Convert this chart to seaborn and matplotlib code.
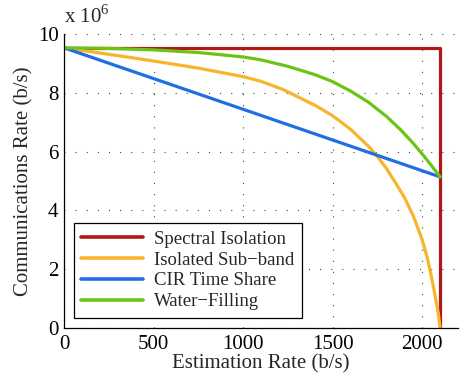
import pandas as pd
import matplotlib
matplotlib.use("Agg")
import matplotlib.pyplot as plt
import seaborn as sns

# === Data (rates in units of 1e6 b/s) ===
series_names = ["Spectral Isolation", "Isolated Sub\u2212band", "CIR Time Share", "Water\u2212Filling"]

spectral_x = [0, 2100, 2100]
spectral_y = [9.53, 9.53, 0.0]

subband_x = [0, 160, 350, 500, 750, 1000, 1100, 1220, 1400, 1500, 1600, 1700, 1750,
             1800, 1850, 1900, 1950, 2000, 2030, 2055, 2075, 2090, 2100]
subband_y = [9.53, 9.39, 9.22, 9.08, 8.84, 8.55, 8.39, 8.12, 7.58, 7.22, 6.76, 6.18, 5.83,
             5.43, 4.95, 4.45, 3.82, 3.00, 2.35, 1.65, 1.00, 0.50, 0.0]

cir_x = [0, 2100]
cir_y = [9.53, 5.14]

water_x = [0, 250, 500, 750, 1000, 1100, 1250, 1400, 1500, 1600, 1700, 1800, 1880,
           1950, 2000, 2050, 2100]
water_y = [9.53, 9.51, 9.46, 9.37, 9.22, 9.12, 8.90, 8.62, 8.38, 8.06, 7.68, 7.20, 6.74,
           6.28, 5.92, 5.54, 5.14]

colors = ["#B01818", "#F7B52C", "#1F6FE3", "#6CC414"]

x_ticks = [0, 500, 1000, 1500, 2000]
y_ticks = [0, 2, 4, 6, 8, 10]

# === Build long table ===
frames = []
for name, xs, ys in zip(series_names,
                        [spectral_x, subband_x, cir_x, water_x],
                        [spectral_y, subband_y, cir_y, water_y]):
    frames.append(pd.DataFrame({"x": xs, "y": ys, "series": name}))
df = pd.concat(frames, ignore_index=True)

# === Style ===
sns.set_style("white")
plt.rcParams["font.family"] = ["Liberation Serif", "DejaVu Serif"]
plt.rcParams["mathtext.fontset"] = "custom"
plt.rcParams["mathtext.rm"] = "Liberation Serif"

fig = plt.figure(figsize=(4.74, 3.82), dpi=100)
ax = fig.add_axes([64 / 474, (382 - 328) / 382, 394 / 474, 294 / 382])

sns.lineplot(data=df, x="x", y="y", hue="series", hue_order=series_names,
             palette=colors, estimator=None, sort=False, linewidth=2.3,
             ax=ax, legend=False)
for line in ax.get_lines():
    line.set_solid_joinstyle("round")

ax.set_xlim(0, 2200)
ax.set_ylim(0, 10)
ax.set_xticks(x_ticks)
ax.set_yticks(y_ticks)
ax.tick_params(direction="in", length=4, width=0.8, labelsize=15, colors="black")
ax.tick_params(axis="x", pad=5)
ax.tick_params(axis="y", pad=4)
ax.grid(True, color="#444444", linestyle=(0, (1, 9)), linewidth=0.8)

for side in ["top", "right"]:
    ax.spines[side].set_visible(False)
for side in ["left", "bottom"]:
    ax.spines[side].set_color("black")
    ax.spines[side].set_linewidth(0.9)

ax.set_xlabel("Estimation Rate (b/s)", fontsize=15, labelpad=0)
ax.set_ylabel("Communications Rate (b/s)", fontsize=15, labelpad=3)
ax.text(0.0, 1.02, r"x 10$^{6}$", transform=ax.transAxes, fontsize=15,
        ha="left", va="bottom")

handles = [plt.Line2D([], [], color=c, linewidth=2.6) for c in colors]
leg = ax.legend(handles, series_names, loc="upper left",
                bbox_to_anchor=(0.025, 0.357), fontsize=13.5, frameon=True,
                fancybox=False, framealpha=1, edgecolor="black",
                handlelength=3.3, handletextpad=0.6, borderpad=0.4,
                labelspacing=0.2, borderaxespad=0)
leg.get_frame().set_linewidth(0.9)

fig.savefig("out.png", dpi=100)
